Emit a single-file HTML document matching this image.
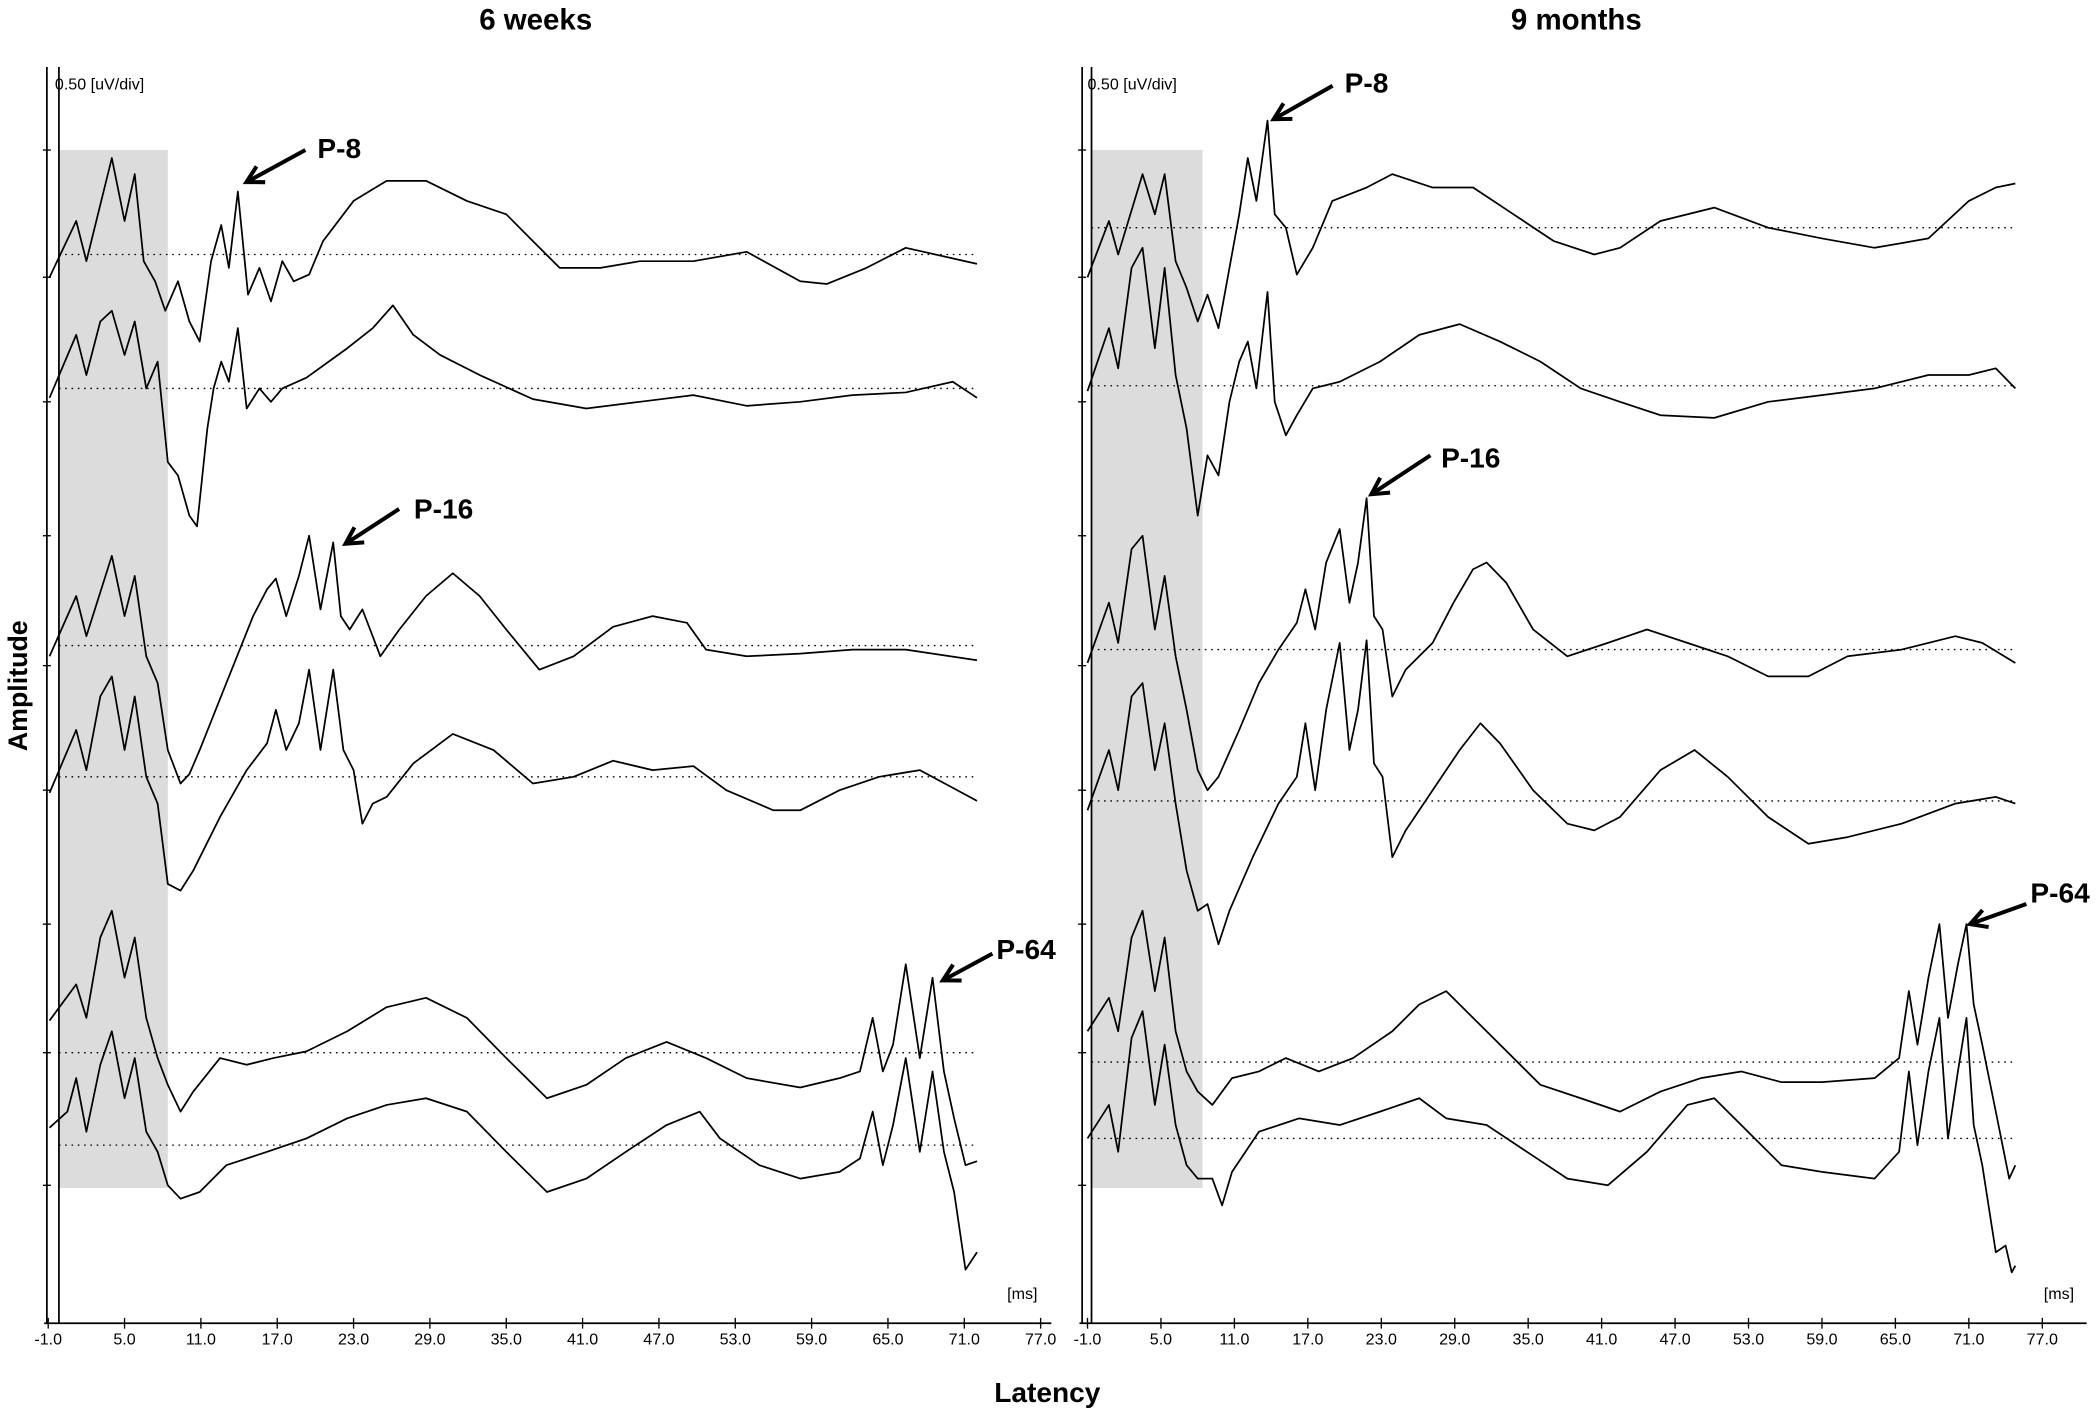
<!DOCTYPE html>
<html><head><meta charset="utf-8"><style>
html,body{margin:0;padding:0;background:#fff;}
svg{display:block;}
text{font-family:"Liberation Sans",sans-serif;}
</style></head><body>
<svg id="chart" width="2100" height="1413" viewBox="0 0 1568 1055" xmlns="http://www.w3.org/2000/svg">
<text x="400" y="22" font-size="22" font-weight="bold" text-anchor="middle">6 weeks</text>
<text x="1177" y="22" font-size="22" font-weight="bold" text-anchor="middle">9 months</text>
<text x="20" y="512" font-size="20" font-weight="bold" text-anchor="middle" transform="rotate(-90 20 512)">Amplitude</text>
<text x="782" y="1047" font-size="21" font-weight="bold" text-anchor="middle">Latency</text>
<g id="left"></g>
<g id="right"></g>
</svg>
<script>
const tickLabels = ["-1.0","5.0","11.0","17.0","23.0","29.0","35.0","41.0","47.0","53.0","59.0","65.0","71.0","77.0"];
const tickValues = [-1,5,11,17,23,29,35,41,47,53,59,65,71,77];
// Left panel (6 weeks) traces: latency (ms) and amplitude (relative units, +up)
const L1ms=[-0.9,1.2,2.0,4.0,5.0,5.8,6.5,7.4,8.2,9.2,10.1,10.9,11.8,12.6,13.2,13.9,14.7,15.6,16.5,17.4,18.3,19.5,20.6,23.0,25.6,28.7,31.9,35.0,37.1,39.2,42.4,45.5,49.7,53.9,58.1,60.2,63.3,66.4,72.0];
const L1amp=[-17,25,-5,72,25,60,-5,-20,-42,-20,-50,-65,-5,22,-10,47,-30,-10,-35,-5,-20,-15,10,40,55,55,40,30,10,-10,-10,-5,-5,2,-20,-22,-10,5,-7];
const L2ms=[-0.9,1.2,2.0,3.1,4.0,5.0,5.8,6.7,7.6,8.4,9.2,10.1,10.7,11.5,12.0,12.6,13.2,13.9,14.6,15.6,16.5,17.4,19.3,22.5,24.5,26.1,27.7,29.8,32.9,37.1,41.3,45.5,49.7,53.9,58.1,62.2,66.4,70.1,72.0];
const L2amp=[-7,40,10,50,58,25,50,0,20,-55,-65,-95,-103,-30,0,20,5,45,-15,0,-10,0,8,30,45,62,40,25,10,-8,-15,-10,-5,-13,-10,-5,-3,5,-7];
const L3ms=[-0.9,1.2,2.0,4.0,5.0,5.8,6.7,7.6,8.4,9.4,10.1,10.9,13.0,15.1,16.2,16.9,17.7,18.7,19.5,20.4,21.4,22.0,22.7,23.7,25.1,26.6,28.7,30.8,32.9,35.0,37.6,40.3,43.4,46.5,49.2,50.7,53.9,58.1,62.2,66.4,72.0];
const L3amp=[-8,37,7,67,22,52,-8,-28,-78,-103,-96,-78,-28,22,42,50,22,52,82,27,77,22,12,27,-8,12,37,54,37,12,-18,-8,14,22,17,-3,-8,-6,-3,-3,-11];
const L4ms=[-0.9,1.2,2.0,3.1,4.0,5.0,5.8,6.7,7.6,8.4,9.4,10.4,12.5,14.6,16.2,16.9,17.7,18.7,19.5,20.4,21.4,22.2,23.0,23.7,24.5,25.6,27.7,30.8,34.0,37.1,40.3,43.4,46.5,49.7,52.3,56.0,58.1,61.2,64.3,67.5,72.0];
const L4amp=[-12,35,5,60,75,20,60,0,-20,-80,-85,-70,-30,5,25,50,20,40,80,20,80,20,5,-35,-20,-15,10,32,20,-5,0,12,5,8,-10,-25,-25,-10,0,5,-18];
const L5ms=[-0.9,1.2,2.0,3.1,4.0,5.0,5.8,6.7,7.6,8.4,9.4,10.4,12.5,14.6,16.7,19.3,22.5,25.6,28.7,31.9,35.0,38.2,41.3,44.4,47.6,50.7,53.9,58.1,61.2,62.8,63.8,64.6,65.4,66.4,67.5,68.5,69.4,70.2,71.1,72.0];
const L5amp=[24,51,26,86,106,56,86,26,-4,-24,-44,-29,-4,-9,-4,1,16,34,41,26,-4,-34,-24,-4,8,-4,-19,-26,-19,-14,26,-14,6,66,-4,56,-14,-49,-84,-81];
const L6ms=[-0.9,0.5,1.2,2.0,3.1,4.0,5.0,5.8,6.7,7.6,8.4,9.4,10.9,13.0,16.2,19.3,22.5,25.6,28.7,31.9,35.0,38.2,41.3,44.4,47.6,50.2,51.8,54.9,58.1,61.2,62.8,63.8,64.6,65.4,66.4,67.5,68.5,69.4,70.2,71.1,72.0];
const L6amp=[13,25,50,10,60,85,35,65,10,-5,-30,-40,-35,-15,-5,5,20,30,35,25,-5,-35,-25,-5,15,25,5,-15,-25,-20,-10,25,-15,15,65,-5,55,-5,-35,-93,-80];
// Right panel (9 months)
const R1ms=[-1,0.75,1.5,3.5,4.5,5.3,6.2,7.1,8.0,8.8,9.7,10.6,11.4,12.1,12.8,13.7,14.3,15.2,16.1,17.4,19.0,21.8,23.9,27.2,30.5,33.8,37.1,40.4,42.5,45.8,50.2,54.6,59.0,63.3,67.7,71.0,73.2,74.8];
const R1amp=[-37,5,-20,40,10,40,-25,-45,-70,-50,-75,-30,10,52,20,80,10,0,-35,-15,20,30,40,30,30,10,-10,-20,-15,5,15,0,-8,-15,-8,20,30,33];
const R2ms=[-1,0.75,1.5,2.6,3.5,4.5,5.3,6.2,7.1,8.0,8.8,9.7,10.6,11.4,12.1,12.8,13.7,14.3,15.2,16.1,17.4,19.6,22.9,26.1,29.4,32.7,36.0,39.3,42.5,45.8,50.2,54.6,59.0,63.3,67.7,71.0,73.2,74.8];
const R2amp=[-4,43,13,88,103,28,88,8,-32,-97,-52,-67,-12,18,33,-2,70,-12,-37,-22,-2,3,18,38,46,33,18,-2,-12,-22,-24,-12,-7,-2,8,8,13,-2];
const R3ms=[-1,0.75,1.5,2.6,3.5,4.5,5.3,6.2,7.1,8.0,8.8,9.7,11.4,13.0,14.6,16.1,16.8,17.6,18.5,19.6,20.4,21.1,21.8,22.4,23.1,23.9,25.0,27.2,28.9,30.5,31.6,33.2,35.4,38.2,41.5,44.7,48.0,51.3,54.6,57.9,61.1,65.5,69.9,72.1,74.8];
const R3amp=[-10,35,5,75,85,15,55,-5,-45,-90,-105,-95,-60,-25,0,20,45,15,65,90,35,65,113,25,15,-35,-15,5,35,60,65,50,15,-5,5,15,5,-5,-20,-20,-5,0,10,5,-10];
const R4ms=[-1,0.75,1.5,2.6,3.5,4.5,5.3,6.2,7.1,8.0,8.8,9.7,10.6,12.5,14.6,16.1,16.8,17.6,18.5,19.6,20.4,21.1,21.8,22.4,23.1,23.9,25.0,27.2,29.4,31.1,32.7,35.4,38.2,40.4,42.5,45.8,48.6,51.3,54.6,57.9,61.1,65.5,69.9,73.2,74.8];
const R4amp=[-7,38,8,78,88,23,58,-2,-52,-82,-77,-107,-82,-42,-2,18,58,8,68,118,38,68,120,28,18,-42,-22,8,38,58,43,8,-17,-22,-12,23,38,18,-12,-32,-27,-17,-2,3,-2];
const R5ms=[-1,0.75,1.5,2.6,3.5,4.5,5.3,6.2,7.1,8.0,9.2,10.8,13.0,15.2,17.9,20.7,23.9,26.1,28.3,30.5,32.7,36.0,39.3,42.5,45.8,49.1,52.4,55.7,59.0,63.3,65.3,66.1,66.8,67.7,68.6,69.3,70.1,70.8,71.4,72.1,73.2,74.3,74.8];
const R5amp=[23,48,23,93,113,53,93,23,-7,-22,-32,-12,-7,3,-7,3,23,43,53,33,13,-17,-27,-37,-22,-12,-7,-15,-15,-12,3,53,13,63,103,33,73,103,43,13,-37,-87,-77];
const R6ms=[-1,0.75,1.5,2.6,3.5,4.5,5.3,6.2,7.1,8.0,9.2,10.0,10.8,13.0,16.3,19.6,22.9,26.1,28.3,31.6,34.9,38.2,41.5,44.7,48.0,50.2,52.4,55.7,59.0,63.3,65.3,66.1,66.8,67.7,68.6,69.3,70.1,70.8,71.4,72.1,73.2,74.0,74.5,74.8];
const R6amp=[0,25,-10,75,95,25,70,10,-20,-30,-30,-50,-25,5,15,10,20,30,15,10,-10,-30,-35,-10,25,30,10,-20,-25,-30,-10,50,-5,50,90,0,50,90,10,-20,-85,-80,-100,-95];

const NS="http://www.w3.org/2000/svg";
function mk(parent,tag,attrs){const e=document.createElementNS(NS,tag);for(const k in attrs)e.setAttribute(k,attrs[k]);parent.appendChild(e);return e;}

function drawPanel(g, cfg, traces, baselines, arrows){
  const xs = ms => cfg.x0 + (ms+1)*cfg.k;
  const r=mk(g,'rect',{x:cfg.ax2,y:112,width:xs(cfg.grayEnd)-cfg.ax2,height:775,fill:'#dcdcdc'});
  
  
  const a1=mk(g,'line',{x1:cfg.ax1,y1:50,x2:cfg.ax1,y2:988,stroke:'#000','stroke-width':1.3});
  
  
  const a2=mk(g,'line',{x1:cfg.ax2,y1:50,x2:cfg.ax2,y2:988,stroke:'#000','stroke-width':1.3});
  
  
  const xa=mk(g,'line',{x1:cfg.ax1-2,y1:988,x2:cfg.xEnd,y2:988,stroke:'#000','stroke-width':1.3});
  
  
  [112,207,300,400,497,590,690,786,885].forEach(y=>{
    const t=mk(g,'line',{x1:cfg.ax1-3,y1:y,x2:cfg.ax1+3,y2:y,stroke:'#000','stroke-width':1});
    
    
  });
  tickValues.forEach((v,i)=>{
    const x=xs(v);
    const t=mk(g,'line',{x1:x,y1:984,x2:x,y2:992,stroke:'#000','stroke-width':1});
    
    
    const l=mk(g,'text',{x:x,y:1004,'font-size':12,'text-anchor':'middle'});
    l.textContent=tickLabels[i];
    
    
  });
  const sc=mk(g,'text',{x:cfg.ax2-3,y:67,'font-size':12});
  sc.textContent='0.50 [uV/div]';
  
  
  const ms=mk(g,'text',{x:cfg.msX,y:970,'font-size':12});
  ms.textContent='[ms]';
  
  
  traces.forEach((tr,i)=>{
    const b=baselines[i];
    const dl=mk(g,'line',{x1:cfg.ax2,y1:b,x2:xs(cfg.endMs),y2:b,stroke:'#000','stroke-width':1,'stroke-dasharray':'1.2 3.5'});
    
    
    const pts=tr[0].map((m,j)=>xs(m).toFixed(1)+','+(b-tr[1][j]).toFixed(1)).join(' ');
    const p=mk(g,'polyline',{points:pts,fill:'none',stroke:'#000','stroke-width':1.3,'stroke-linejoin':'round'});
    
    
  });
  arrows.forEach(a=>{
    const ln=mk(g,'line',{x1:a.x1,y1:a.y1,x2:a.x2,y2:a.y2,stroke:'#000','stroke-width':3});
    
    
    const ang=Math.atan2(a.y2-a.y1,a.x2-a.x1);
    const L=14,W=0.5;
    const p1=[a.x2-L*Math.cos(ang-W),a.y2-L*Math.sin(ang-W)];
    const p2=[a.x2-L*Math.cos(ang+W),a.y2-L*Math.sin(ang+W)];
    const hd=mk(g,'polyline',{points:p1.join(',')+' '+a.x2+','+a.y2+' '+p2.join(','),fill:'none',stroke:'#000','stroke-width':3});
    
    
    const t=mk(g,'text',{x:a.tx,y:a.ty,'font-size':21,'font-weight':'bold'});
    t.textContent=a.label;
    
    
  });
}
drawPanel(document.getElementById('left'),
  {x0:36,k:9.5,ax1:35,ax2:44,xEnd:785,msX:752,grayEnd:8.4,endMs:72},
  [[L1ms,L1amp],[L2ms,L2amp],[L3ms,L3amp],[L4ms,L4amp],[L5ms,L5amp],[L6ms,L6amp]],
  [190,290,482,580,786,855],
  [{x1:228,y1:112,x2:184,y2:136,tx:237,ty:118,label:'P-8'},
   {x1:298,y1:380,x2:258,y2:406,tx:309,ty:387,label:'P-16'},
   {x1:741,y1:712,x2:704,y2:732,tx:744,ty:716,label:'P-64'}]);
drawPanel(document.getElementById('right'),
  {x0:812,k:9.14,ax1:808,ax2:815,xEnd:1558,msX:1526,grayEnd:8.4,endMs:74.8},
  [[R1ms,R1amp],[R2ms,R2amp],[R3ms,R3amp],[R4ms,R4amp],[R5ms,R5amp],[R6ms,R6amp]],
  [170,288,485,598,793,850],
  [{x1:995,y1:64,x2:951,y2:89,tx:1004,ty:69,label:'P-8'},
   {x1:1068,y1:340,x2:1024,y2:369,tx:1076,ty:349,label:'P-16'},
   {x1:1513,y1:675,x2:1471,y2:690,tx:1516,ty:674,label:'P-64'}]);
</script>
</body></html>
